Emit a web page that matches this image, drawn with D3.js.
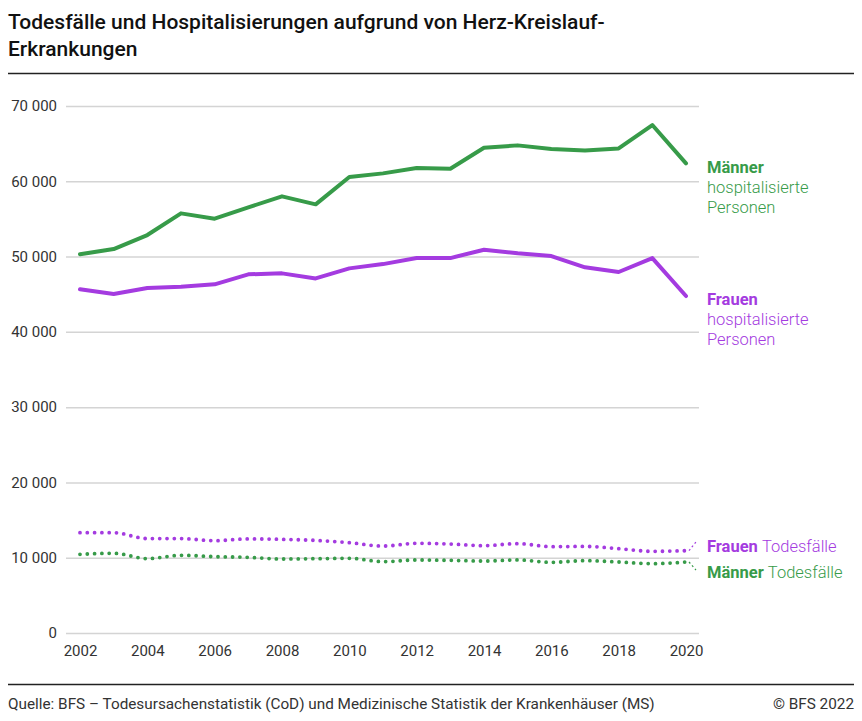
<!DOCTYPE html>
<meta charset="utf-8">
<style>
body { margin: 0; background: #fff; font-family: Roboto, sans-serif; }
.grid line { stroke: #d4d4d4; stroke-width: 1.5px; }
.title { font-size: 21px; font-weight: 500; fill: #111; }
.foot { font-size: 15.3px; fill: #333; font-weight: 400; }
</style>
<body>
<script src="https://d3js.org/d3.v7.min.js"></script>
<script>
// data
var years = [2002, 2003, 2004, 2005, 2006, 2007, 2008, 2009, 2010, 2011,
             2012, 2013, 2014, 2015, 2016, 2017, 2018, 2019, 2020];
var menHosp = [50300, 51000, 52860, 55740, 55030, 56540, 58000, 56940, 60570, 61050,
               61760, 61670, 64460, 64770, 64280, 64100, 64370, 67470, 62380];
var womenHosp = [45650, 45030, 45820, 46000, 46310, 47640, 47770, 47100, 48430, 49000,
                 49800, 49800, 50910, 50430, 50070, 48570, 47950, 49800, 44760];
var womenDeaths = [13320, 13320, 12540, 12540, 12260, 12500, 12440, 12300, 12000, 11550,
                   11910, 11820, 11600, 11870, 11470, 11500, 11200, 10850, 10930];
var menDeaths = [10450, 10590, 9880, 10320, 10140, 10050, 9830, 9870, 9920, 9480,
                 9700, 9650, 9560, 9700, 9390, 9610, 9430, 9210, 9430];
var yTicks = [0, 10000, 20000, 30000, 40000, 50000, 60000, 70000];
var xTicks = [2002, 2004, 2006, 2008, 2010, 2012, 2014, 2016, 2018, 2020];

var green = "#379b49", purple = "#a43be0";
var W = 862, H = 721;

var svg = d3.select("body").append("svg")
    .attr("width", W).attr("height", H);

// title
svg.append("text").attr("class", "title").attr("x", 8).attr("y", 29)
    .text("Todesfälle und Hospitalisierungen aufgrund von Herz-Kreislauf-");
svg.append("text").attr("class", "title").attr("x", 8).attr("y", 56)
    .text("Erkrankungen");
svg.append("line").attr("x1", 8).attr("x2", 854).attr("y1", 73.5).attr("y2", 73.5)
    .attr("stroke", "#222").attr("stroke-width", 1.6);

var x = d3.scaleLinear().domain([2002, 2020]).range([80, 686]);
var y = d3.scaleLinear().domain([0, 70000]).range([633, 106]);
var fmt = function(d) { return d3.format(",")(d).replace(",", " "); };

// gridlines + y labels
var gy = svg.append("g").attr("class", "grid")
    .attr("transform", "translate(66,0)")
    .call(d3.axisRight(y).tickValues(yTicks).tickSize(633).tickFormat(""));
gy.select(".domain").remove();
gy.selectAll(".tick").filter(function(d) { return d === 0; }).select("line")
    .attr("stroke", "#333").attr("stroke-width", 1.5);

svg.append("g").selectAll("text").data(yTicks).enter().append("text")
    .attr("x", 57).attr("y", function(d) { return y(d); }).attr("dy", "0.35em")
    .attr("text-anchor", "end")
    .style("fill", "#333").style("font-size", "15px")
    .text(fmt);

// x axis labels
var gx = svg.append("g").attr("transform", "translate(0,633)")
    .call(d3.axisBottom(x).tickValues(xTicks).tickSize(0).tickPadding(12)
      .tickFormat(d3.format("d")));
gx.select(".domain").remove();
gx.selectAll("text").style("font-size", "15px").style("fill", "#333")
    .style("font-family", "Roboto, sans-serif");

var line = d3.line()
    .x(function(d, i) { return x(years[i]); })
    .y(function(d) { return y(d); });
var curve = d3.line()
    .x(function(d, i) { return x(years[i]); })
    .y(function(d) { return y(d); })
    .curve(d3.curveMonotoneX);

function solid(data, col) {
  svg.append("path").datum(data).attr("d", line)
    .attr("fill", "none").attr("stroke", col).attr("stroke-width", 4)
    .attr("stroke-linejoin", "round").attr("stroke-linecap", "round");
}
function dotted(data, col, endY) {
  svg.append("path").datum(data).attr("d", curve)
    .attr("fill", "none").attr("stroke", col).attr("stroke-width", 3.8)
    .attr("stroke-linecap", "round").attr("stroke-dasharray", "0 7.3");
  var last = data[data.length - 1];
  svg.append("line")
    .attr("x1", x(2020) + 3).attr("y1", y(last))
    .attr("x2", 696).attr("y2", endY)
    .attr("stroke", col).attr("stroke-width", 1.2).attr("stroke-dasharray", "2 2.5");
}

solid(menHosp, green);
solid(womenHosp, purple);
dotted(womenDeaths, purple, 542);
dotted(menDeaths, green, 570);

// labels
var labelSize = "16.5px";
function label(lines, col, y0) {
  var t = svg.append("text").attr("x", 707).attr("y", y0)
    .style("font-size", labelSize).attr("fill", col);
  lines.forEach(function(l, i) {
    t.append("tspan").attr("x", 707).attr("dy", i ? 20 : 0)
      .style("font-weight", i ? 300 : 700).text(l);
  });
}
label(["Männer", "hospitalisierte", "Personen"], green, 172.5);
label(["Frauen", "hospitalisierte", "Personen"], purple, 305);

function inline(bold, rest, col, yy) {
  var t = svg.append("text").attr("x", 707).attr("y", yy)
    .style("font-size", labelSize).attr("fill", col);
  t.append("tspan").style("font-weight", 700).text(bold + " ");
  t.append("tspan").style("font-weight", 300).text(rest);
}
inline("Frauen", "Todesfälle", purple, 551.5);
inline("Männer", "Todesfälle", green, 578);

// footer
svg.append("line").attr("x1", 8).attr("x2", 854).attr("y1", 684.5).attr("y2", 684.5)
    .attr("stroke", "#222").attr("stroke-width", 1.6);
svg.append("text").attr("class", "foot").attr("x", 8).attr("y", 709)
    .text("Quelle: BFS – Todesursachenstatistik (CoD) und Medizinische Statistik der Krankenhäuser (MS)");
svg.append("text").attr("class", "foot").attr("x", 854).attr("y", 709)
    .attr("text-anchor", "end").text("© BFS 2022");
</script>
</body>
